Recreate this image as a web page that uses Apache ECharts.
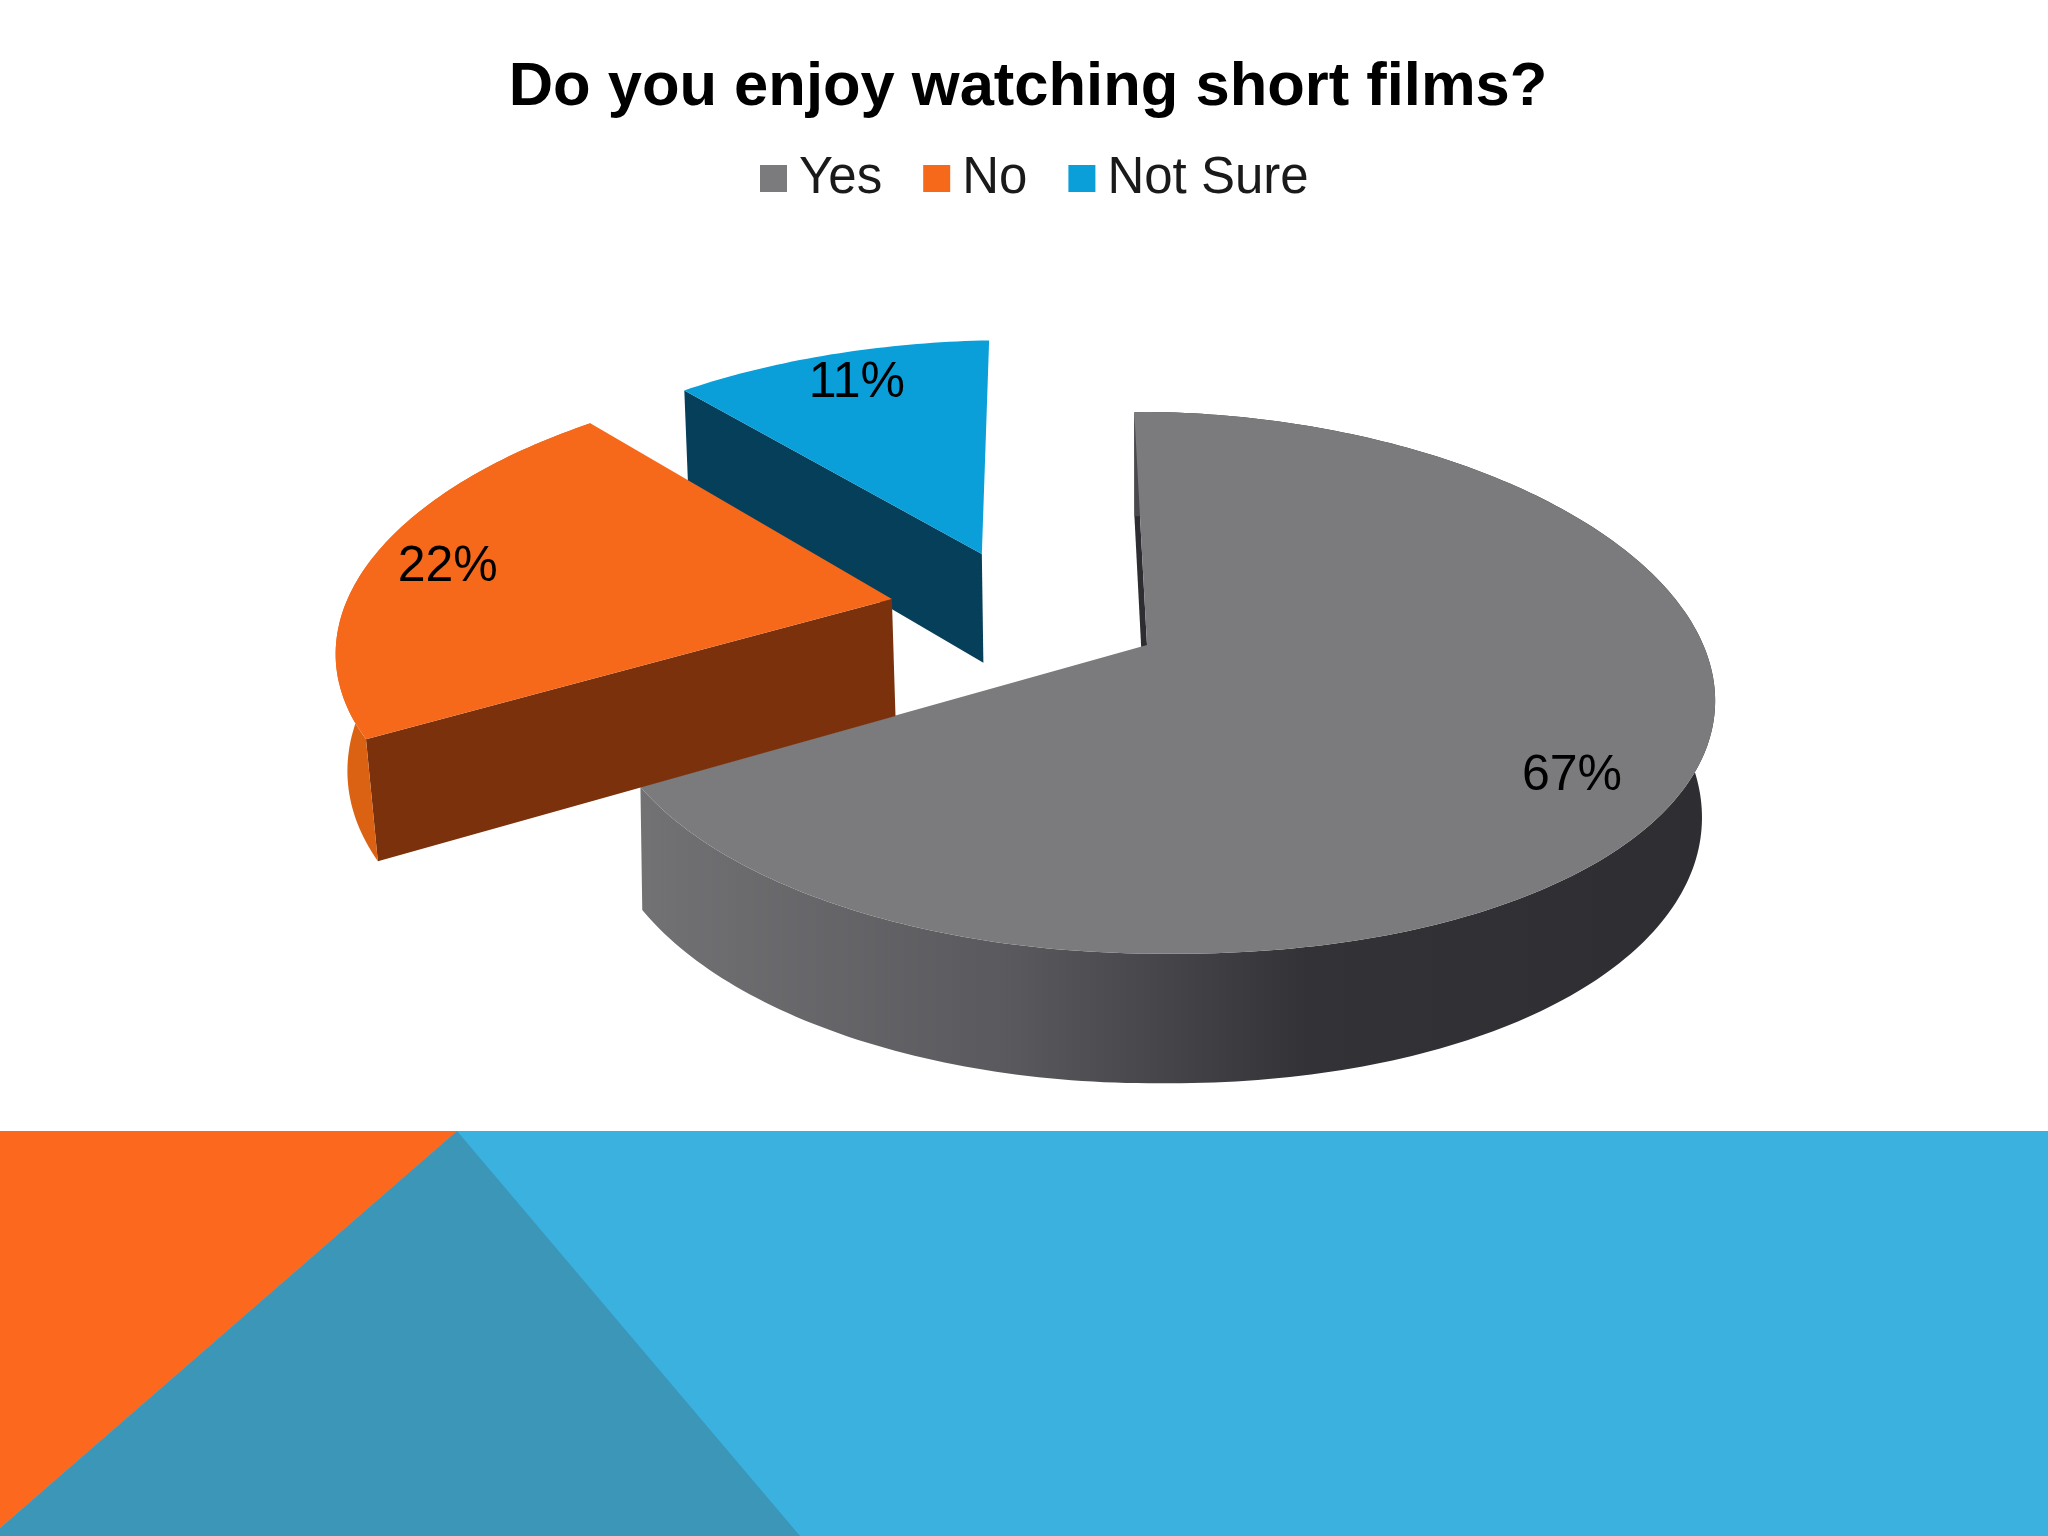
<!DOCTYPE html>
<html>
<head>
<meta charset="utf-8">
<style>html,body{margin:0;padding:0;background:#fff}#c{width:2048px;height:1536px}</style>
<script src="https://cdn.jsdelivr.net/npm/echarts@6/dist/echarts.min.js"></script>
</head>
<body>
<div id="c"></div>
<script>
const chartTitle = 'Do you enjoy watching short films?';
const categories = ['Yes', 'No', 'Not Sure'];
const percentValues = [67, 22, 11];

const FONT = '"Liberation Sans", Arial, sans-serif';
const topColors = ['#7B7B7E', '#F6691A', '#0A9FD9'];
const radialColors = ['#2E2D31', '#7A310C', '#053F5A'];
const rimColors = [
  { type: 'linear', x: 0, y: 0, x2: 1, y2: 0, global: false, colorStops: [
    { offset: 0, color: '#727275' }, { offset: 0.35, color: '#59585C' },
    { offset: 0.62, color: '#333236' }, { offset: 1, color: '#2E2D31' } ] },
  '#DB6212', null
];
// Scene: exploded slices in disk units, then one perspective projection.
const scene = { cx: 1147, cy: 645, a: 553.5, b: 265.5, p: 0.1396, q: 0.016, c: 17, firstAngle: -1.5 };
const sliceLayout = [
  { eu: 0, ev: 0, r: 1, depth: 117, k: [0.0125, 0.0105], z: 3, label: [0.715, 0.41] },
  { eu: -0.476, ev: -0.179, r: 1.04, depth: 122, k: [0.015, 0], z: 4, label: [-0.872, -0.146] },
  { eu: -0.315, ev: -0.362, r: 1.012, depth: 115, k: [0.01, 0], z: 2, label: [-0.30, -0.809] }
];

const total = percentValues.reduce((s, v) => s + v, 0);

function project(layout, u, v, lower) {
  const k = lower ? layout.k[0] + layout.k[1] * u : 0;
  const w = 1 - scene.p * v - scene.q * u + k;
  const shear = u > 0 ? scene.c * Math.pow(u, 1.3) : 0;
  return [
    scene.cx + scene.a * u / w,
    scene.cy + (scene.b * v + shear + (lower ? layout.depth : 0)) / w
  ];
}
function rimPoint(layout, deg, lower) {
  const t = deg * Math.PI / 180;
  return project(layout, layout.eu + layout.r * Math.sin(t), layout.ev - layout.r * Math.cos(t), lower);
}
function arc(layout, from, to, lower) {
  const pts = [];
  const n = Math.max(2, Math.ceil(Math.abs(to - from)));
  for (let i = 0; i <= n; i++) pts.push(rimPoint(layout, from + (to - from) * i / n, lower));
  return pts;
}

function makeRender(index) {
  return function (params, api) {
    const layout = sliceLayout[index];
    const before = percentValues.slice(0, index).reduce((s, v) => s + v, 0);
    const start = scene.firstAngle + before / total * 360;
    const end = start + api.value(0) / total * 360;
    const apexTop = project(layout, layout.eu, layout.ev, false);
    const apexLow = project(layout, layout.eu, layout.ev, true);
    const children = [];
    children.push({
      type: 'polygon',
      shape: { points: [apexTop, rimPoint(layout, start, false), rimPoint(layout, start, true), apexLow] },
      style: { fill: radialColors[index] }
    });
    if (rimColors[index]) {
      children.push({
        type: 'polygon',
        shape: { points: arc(layout, start, end, false).concat(arc(layout, end, start, true)) },
        style: { fill: rimColors[index] }
      });
    }
    children.push({
      type: 'polygon',
      shape: { points: [apexTop].concat(arc(layout, start, end, false)) },
      style: { fill: topColors[index] }
    });
    const lp = project(layout, layout.eu + layout.label[0], layout.ev + layout.label[1], false);
    children.push({
      type: 'text',
      style: {
        x: lp[0], y: lp[1] + 3, text: api.value(0) + '%', fill: '#000',
        font: '50px ' + FONT, textAlign: 'center', textVerticalAlign: 'middle'
      }
    });
    return { type: 'group', children };
  };
}

const chart = echarts.init(document.getElementById('c'), null, { renderer: 'canvas', width: 2048, height: 1536 });
chart.setOption({
  animation: false,
  backgroundColor: '#ffffff',
  title: {
    text: chartTitle, left: 1023, top: 52, textAlign: 'center',
    textStyle: { fontFamily: FONT, fontSize: 61.5, fontWeight: 'bold', color: '#000' }
  },
  legend: {
    data: categories, left: 760, top: 153, icon: 'rect', itemWidth: 27, itemHeight: 27,
    itemGap: 41, padding: 0,
    textStyle: { fontFamily: FONT, fontSize: 51, color: '#1a1a1a', padding: [0, 0, 0, 7] }
  },
  graphic: { elements: [
    { type: 'rect', z: 0, shape: { x: 0, y: 1131, width: 2048, height: 405 }, style: { fill: '#3BB1E0' } },
    { type: 'polygon', z: 0, shape: { points: [[457, 1131], [800, 1536], [-9, 1536]] }, style: { fill: '#3C96B8' } },
    { type: 'polygon', z: 0, shape: { points: [[0, 1131], [457, 1131], [0, 1528]] }, style: { fill: '#FC691E' } }
  ] },
  series: categories.map((name, i) => ({
    type: 'custom',
    name,
    coordinateSystem: 'none',
    z: sliceLayout[i].z,
    silent: true,
    itemStyle: { color: topColors[i] },
    renderItem: makeRender(i),
    data: [[percentValues[i]]]
  }))
});
</script>
</body>
</html>
